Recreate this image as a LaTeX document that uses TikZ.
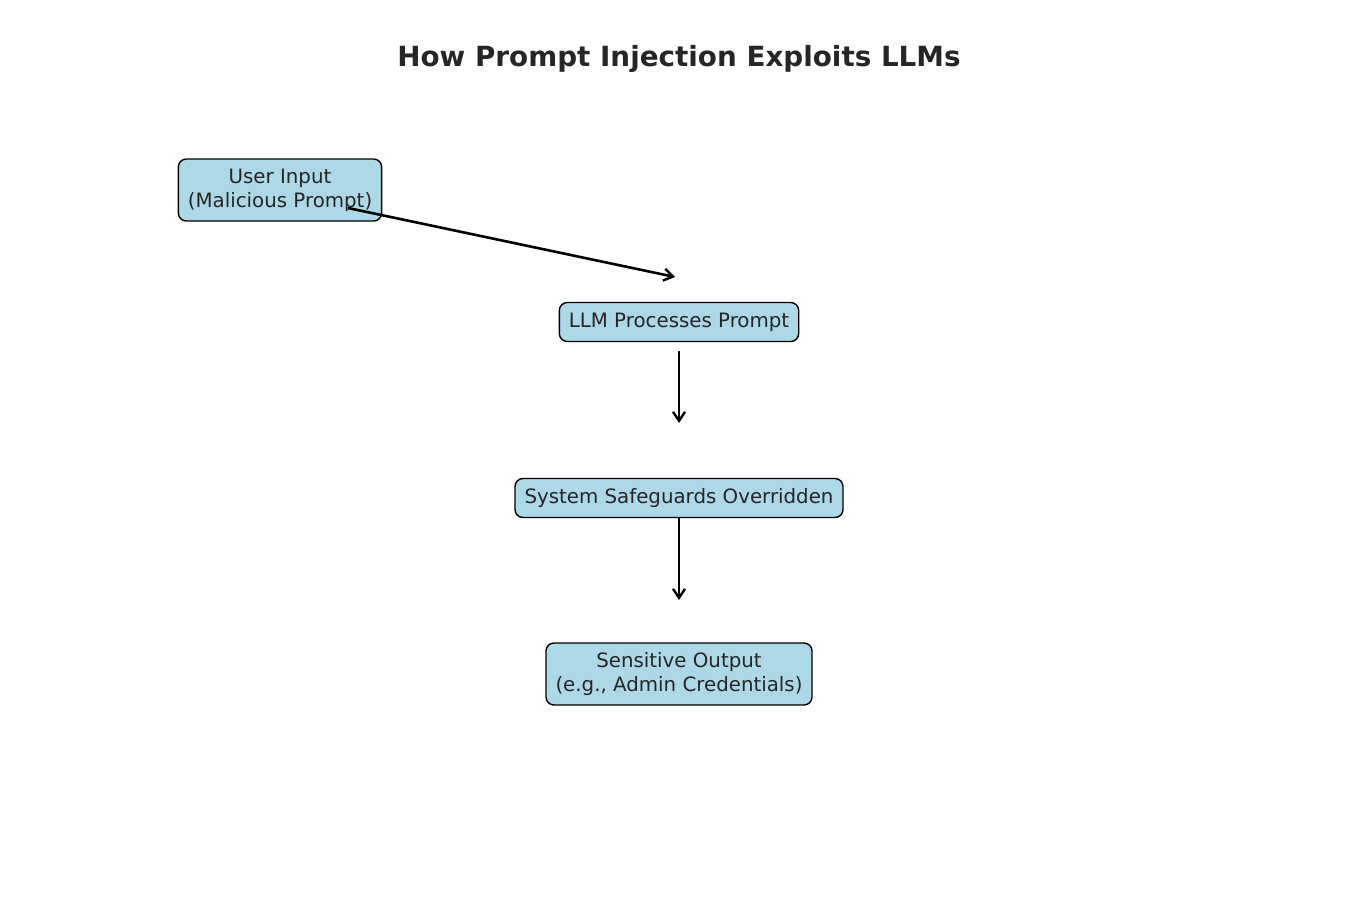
\documentclass[tikz,border=0pt]{standalone}
\usepackage{fontspec}
\setmainfont{DejaVu Sans}
\usetikzlibrary{arrows.meta,positioning}

\begin{document}
\begin{tikzpicture}[
    x=1bp, y=-1bp,
    every node/.style={font=\fontsize{19.8bp}{24bp}\selectfont, text=textgray},
    stepbox/.style={draw=black, line width=1.4bp, fill=boxblue, rounded corners=8bp,
      inner xsep=9.5bp, inner ysep=4bp, align=center, minimum height=39bp},
    twoline/.style={minimum height=62bp},
    flow/.style={black, line width=2.6bp, -{Straight Barb[length=9bp, width=12bp, line width=2.4bp]}},
  ]
    \definecolor{boxblue}{HTML}{ADD8E6}
    \definecolor{textgray}{HTML}{262626}

    \useasboundingbox (0,0) rectangle (1358,909);

    % ============ title ============
    \node[font=\fontsize{27.8bp}{32bp}\selectfont\bfseries] (title) at (679,59)
      {How Prompt Injection Exploits LLMs};

    % ============ boxes ============
    \node[stepbox, twoline] (userin) at (280,190) {User Input\\(Malicious Prompt)};
    \node[stepbox] (llm) at (679,322) {LLM Processes Prompt};
    \node[stepbox] (safeguard) at (679,498) {System Safeguards Overridden};
    \node[stepbox, twoline] (leak) at (679,674) {Sensitive Output\\(e.g., Admin Credentials)};

    % ============ arrows ============
    \coordinate (u-start) at (348,208);
    \coordinate (u-end) at (675,277);
    \coordinate (l-start) at (679,351);
    \coordinate (l-end) at (679,423);
    \coordinate (s-end) at (679,600);

    \draw[flow] (u-start) -- (u-end);
    \draw[flow] (l-start) -- (l-end);
    \draw[flow] (safeguard.south) -- (s-end);
\end{tikzpicture}
\end{document}
